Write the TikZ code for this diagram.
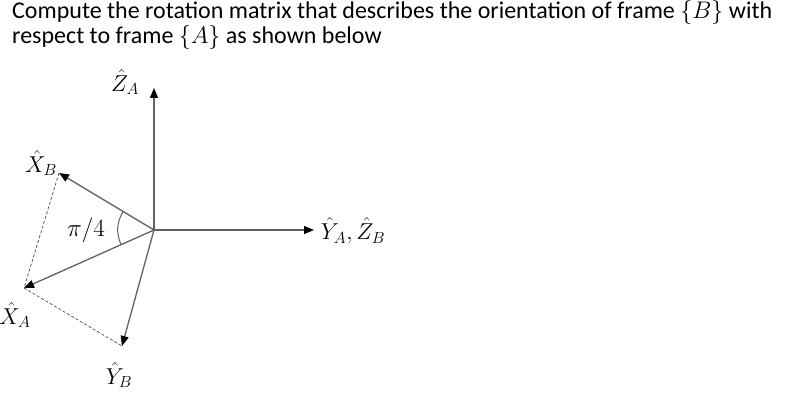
\RequirePackage{fix-cm}
\documentclass[tikz,border=0pt]{standalone}
\usepackage{fontspec}
\setmainfont{Carlito}
\usetikzlibrary{arrows.meta,calc}

\tikzset{
    axis/.style={draw=black!62, line width=1.3pt, -{Triangle[length=10pt,width=8pt,color=black]}},
    guide/.style={draw=black!70, line width=0.7pt, dashed, dash pattern=on 3pt off 2pt},
    lbl/.style={inner sep=0pt, font=\fontsize{23}{26}\selectfont}
}

\begin{document}
\begin{tikzpicture}[x=1pt, y=-1pt]
    \useasboundingbox (0,0) rectangle (800,406);

    % Title
    \node (title1) [anchor=base west, inner sep=0pt, font=\fontsize{24}{28}\selectfont] at (12,19) {Compute the rotation matrix that describes the orientation of frame $\{B\}$ with};
    \node (title2) [anchor=base west, inner sep=0pt, font=\fontsize{24}{28}\selectfont] at (12,44) {respect to frame $\{A\}$ as shown below};

    % Nodes
    \coordinate (O) at (154,230);
    \coordinate (za) at (154,88);
    \coordinate (ya) at (314,230);
    \coordinate (xb) at (59,173);
    \coordinate (xa) at (24,288);
    \coordinate (yb) at (122,346);

    \node (lza) [lbl] at (125,82) {$\hat{Z}_A$};
    \node (lxb) [lbl] at (41,163) {$\hat{X}_B$};
    \node (lxa) [lbl] at (15,315) {$\hat{X}_A$};
    \node (lyb) [lbl] at (119,375) {$\hat{Y}_B$};
    \node (lya) [lbl] at (353,231) {$\hat{Y}_A,\hat{Z}_B$};
    \node (ang) [lbl, font=\fontsize{25}{28}\selectfont] at (86,230) {$\pi/4$};

    % Edges
    \draw[guide] (xb) -- (xa);
    \draw[guide] (xa) -- (yb);
    \draw[axis] (O) -- (za);
    \draw[axis] (O) -- (ya);
    \draw[axis] (O) -- (xb);
    \draw[axis] (O) -- (xa);
    \draw[axis] (O) -- (yb);

    % Angle mark between X_B and X_A
    \coordinate (a1) at ($(O)!36pt!(xb)$);
    \coordinate (a2) at ($(O)!36pt!(xa)$);
    \draw[black!62, line width=1pt, bend right=27] (a1) to (a2);
\end{tikzpicture}
\end{document}
